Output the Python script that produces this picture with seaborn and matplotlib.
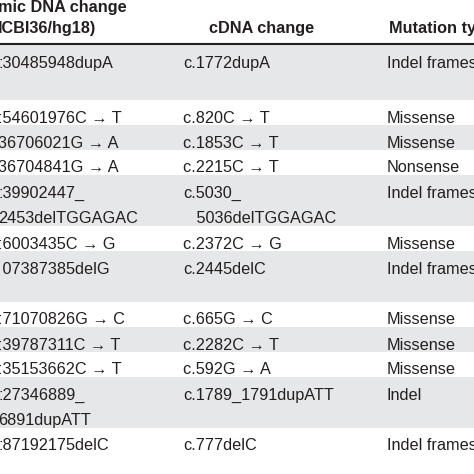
import matplotlib
matplotlib.use("Agg")
import matplotlib.pyplot as plt
import seaborn as sns

sns.set_style("white")
plt.rcParams['font.family'] = ['Liberation Sans', 'DejaVu Sans']

header_genomic = ["mic DNA change", "ICBI36/hg18)"]
header_cdna = "cDNA change"
header_type = "Mutation ty"

genomic = [[":30485948dupA"], [":54601976C \u2192 T"], ["36706021G \u2192 A"], ["36704841G \u2192 A"],
           [":39902447_", "2453delTGGAGAC"], [":6003435C \u2192 G"], [" 07387385delG"],
           [":71070826G \u2192 C"], [":39787311C \u2192 T"], [":35153662C \u2192 T"],
           [":27346889_", "6891dupATT"], [":87192175delC"]]
cdna = [["c.1772dupA"], ["c.820C \u2192 T"], ["c.1853C \u2192 T"], ["c.2215C \u2192 T"],
        ["c.5030_", "   5036delTGGAGAC"], ["c.2372C \u2192 G"], ["c.2445delC"],
        ["c.665G \u2192 C"], ["c.2282C \u2192 T"], ["c.592G \u2192 A"],
        ["c.1789_1791dupATT"], ["c.777delC"]]
mtype = ["Indel frames", "Missense", "Missense", "Nonsense", "Indel frames", "Missense",
         "Indel frames", "Missense", "Missense", "Missense", "Indel", "Indel frames"]
row_heights = [55, 25, 25, 25, 51, 25, 51, 25, 25, 25, 51, 25]

fig = plt.figure(figsize=(4.74, 4.74), dpi=100)
ax = fig.add_axes([0, 0, 1, 1])
ax.set_xlim(0, 474)
ax.set_ylim(474, 0)
ax.axis("off")

fs = 11.7
col = "#231f20"
ax.text(-2, 7, header_genomic[0], fontsize=fs, fontweight="bold", va="center", color=col)
ax.text(-2, 28, header_genomic[1], fontsize=fs, fontweight="bold", va="center", color=col)
ax.text(209, 28, header_cdna, fontsize=fs, fontweight="bold", va="center", color=col)
ax.text(389, 28, header_type, fontsize=fs, fontweight="bold", va="center", color=col)
ax.axhline(44, color=col, lw=1.5)

y = 45
for i, h in enumerate(row_heights):
    if i % 2 == 0:
        ax.axhspan(y, y + h, color="#e6e7e8", lw=0)
    for j, line in enumerate(genomic[i]):
        ax.text(-2, y + 18 + j * 25, line, fontsize=fs, va="center", color=col)
    for j, line in enumerate(cdna[i]):
        ax.text(183, y + 18 + j * 25, line, fontsize=fs, va="center", color=col)
    ax.text(387, y + 18, mtype[i], fontsize=fs, va="center", color=col)
    y += h

fig.savefig("out.png", dpi=100)
